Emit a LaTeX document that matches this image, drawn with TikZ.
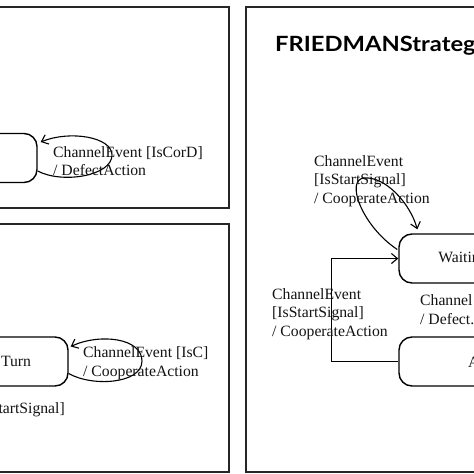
\documentclass[tikz,border=0pt]{standalone}
\usepackage{fontspec}
\setmainfont{Liberation Serif}
\newfontfamily\titlefont{Lato}
\usetikzlibrary{arrows.meta,calc}
\tikzset{
  frame/.style={draw=black!85,line width=2pt},
  state/.style={draw=black,line width=1.4pt,rounded corners=13pt,minimum height=49pt,inner sep=0pt},
  lbl/.style={font=\fontsize{15.7pt}{18.6pt}\selectfont,text=black!92,align=left,inner sep=0pt},
  trans/.style={draw=black,line width=1.1pt,-{Straight Barb[length=6pt,width=10pt,line width=1.1pt]}},
  titlelbl/.style={font=\titlefont\bfseries\fontsize{21pt}{24pt}\selectfont,text=black,inner sep=0pt,xscale=1.13}
}
\begin{document}
\begin{tikzpicture}[x=1pt,y=-1pt]
\useasboundingbox (0,0) rectangle (474,474);
\clip (0,0) rectangle (474,474);
\fill[white] (0,0) rectangle (474,474);
% frames
\draw[frame] (-10,7) rectangle (229,208);
\draw[frame] (-10,224) rectangle (229,472);
\draw[frame] (246,7) rectangle (490,472);
% title
\node[titlelbl,anchor=west] (title) at (275,45.5) {FRIEDMANStrategy};
% top-left state
\node[state,minimum width=120pt] (tl) at (-23,158) {};
\draw[trans] ($(tl.east)+(0,13)$) .. controls (62,184) and (112,176) .. (112,155)
   .. controls (112,137) and (70,130) .. ($(tl.east)+(3,-16)$);
\node[lbl,anchor=west] (tllbl) at (53,161) {ChannelEvent [IsCorD]\\/ DefectAction};
% bottom-left state
\node[state,minimum width=104pt,font=\fontsize{15.7pt}{18.6pt}\selectfont,text=black!92] (bl) at (16,361.5) {Turn};
\draw[trans] ($(bl.east)+(0,12)$) .. controls (92,387) and (142,384) .. (142,361)
   .. controls (142,338) and (100,333) .. ($(bl.east)+(2,-15)$);
\node[lbl,anchor=west] (bllbl) at (83,363.5) {ChannelEvent [IsC]\\/ CooperateAction};
\node[lbl,anchor=east] (blsig) at (65,410) {[IsStartSignal]};
% right states
\node[state,minimum width=128pt,font=\fontsize{15.7pt}{18.6pt}\selectfont,text=black!92] (wait) at (463,258.5) {Waiting};
\node[state,minimum width=128pt] (act) at (463,361.5) {};
\node[lbl,anchor=west] (acttext) at (468,362) {A};
\draw[trans] ($(wait.west)+(-1,-9)$) .. controls (362,226) and (345,180) .. (364,178)
   .. controls (385,176) and (410,203) .. ($(wait.north west)+(19,-4)$);
\node[lbl,anchor=west] (trlbl) at (314,181) {ChannelEvent\\{[IsStartSignal]}\\/ CooperateAction};
\draw[trans] (act.west) -- ++(-67,0) |- (wait.west);
\node[lbl,anchor=west] (orthlbl) at (272,314) {ChannelEvent\\{[IsStartSignal]}\\/ CooperateAction};
\node[lbl,anchor=west] (midlbl) at (420,309.5) {Channel\\/ Defect.};
\end{tikzpicture}
\end{document}
